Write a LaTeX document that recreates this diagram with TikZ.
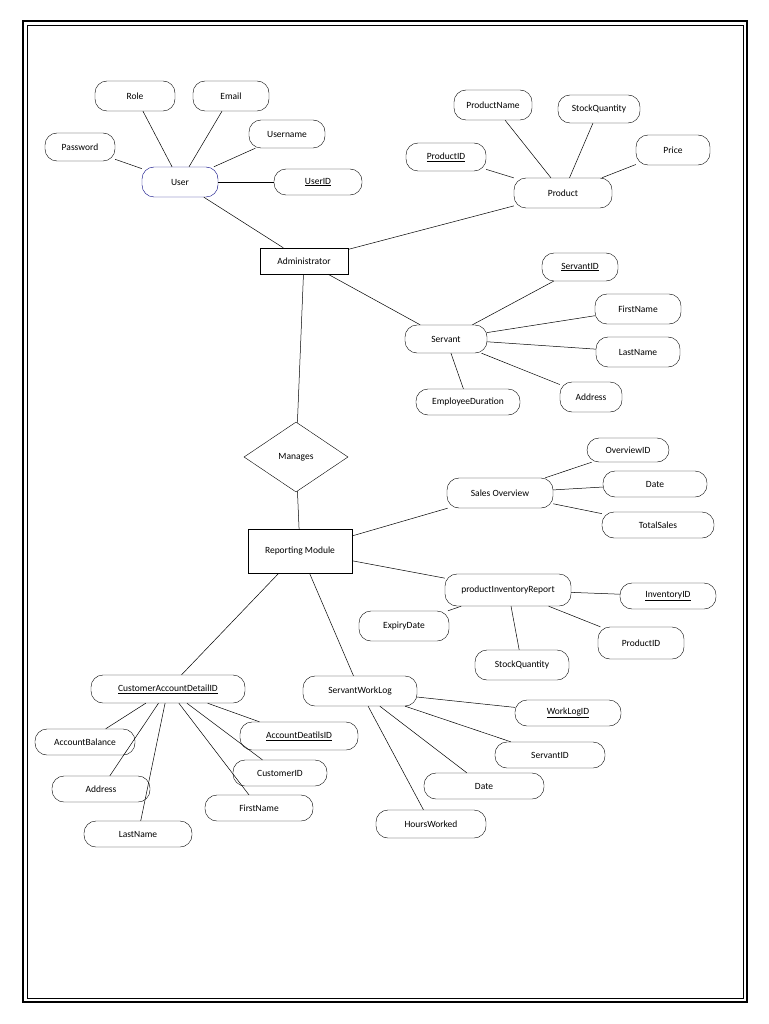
\documentclass[tikz,border=0pt]{standalone}
\usepackage{fontspec}
\setmainfont{Carlito}
\usetikzlibrary{shapes.geometric}
\begin{document}
\begin{tikzpicture}[x=1pt,y=-1pt,
  attr/.style={draw,rounded corners=12pt,font=\fontsize{9.5}{11}\selectfont,inner sep=1pt},
  ent/.style={draw,font=\fontsize{9.5}{11}\selectfont,inner sep=1pt},
  ln/.style={draw,line width=0.5pt}]
\useasboundingbox (0,0) rectangle (768,1024);
\fill[white] (0,0) rectangle (768,1024);
\draw[line width=2pt] (23,21) rectangle (747,1002);
\draw[line width=0.6pt] (27,25) rectangle (743,998);
\newcommand{\A}[6][]{\node[attr,minimum width=#5,minimum height=#6,#1] (#2) at (#3) {#4};}
\A{role}{135,96}{Role}{80}{30}
\A{email}{231,96}{Email}{76}{30}
\A{pw}{80,147}{Password}{70}{28}
\A{uname}{287,134}{Username}{76}{28}
\A[draw=blue!50!black]{user}{180,182}{User}{76}{30}
\A{uid}{318,182}{\underline{UserID}}{88}{26}
\A{pname}{493,105}{ProductName}{78}{30}
\A{sq}{599,109}{StockQuantity}{82}{28}
\A{pid}{446,157}{\underline{ProductID}}{80}{28}
\A{price}{673,150}{Price}{74}{30}
\A{prod}{563,193}{Product}{98}{30}
\node[ent,minimum width=88,minimum height=26] (adm) at (304,261) {Administrator};
\A{sid}{580,267}{\underline{ServantID}}{76}{28}
\A{fn}{638,309}{FirstName}{86}{30}
\A{serv}{446,339}{Servant}{82}{28}
\A{lnm}{638,352}{LastName}{84}{30}
\A{ed}{468,402}{EmployeeDuration}{104}{26}
\A{addr}{591,397}{Address}{62}{30}
\node[draw,diamond,aspect=1.5,minimum width=104,minimum height=70,inner sep=0pt,font=\fontsize{9.5}{11}\selectfont] (man) at (296,457) {Manages};
\A{ovid}{628,450}{OverviewID}{82}{24}
\A{so}{500,493}{Sales Overview}{106}{30}
\A{date}{655,484}{Date}{104}{26}
\A{ts}{658,525}{TotalSales}{112}{26}
\node[ent,minimum width=104,minimum height=44] (rm) at (300,551) {Reporting Module};
\A{pir}{508,590}{productInventoryReport}{126}{32}
\A{invid}{668,596}{\underline{InventoryID}}{96}{26}
\A{exp}{404,626}{ExpiryDate}{90}{30}
\A{pid2}{641,643}{ProductID}{86}{32}
\A{sq2}{522,665}{StockQuantity}{94}{30}
\A{cad}{168,689}{\underline{CustomerAccountDetailID}}{154}{28}
\A{swl}{360,691}{ServantWorkLog}{114}{30}
\A{wl}{568,713}{\underline{WorkLogID}}{106}{26}
\A{ab}{85,742}{AccountBalance}{100}{26}
\A{adid}{299,736}{\underline{AccountDeatilsID}}{118}{28}
\A{sid2}{550,755}{ServantID}{110}{26}
\A{cid}{280,773}{CustomerID}{94}{26}
\A{date2}{484,786}{Date}{120}{26}
\A{addr2}{101,789}{Address}{98}{26}
\A{fn2}{259,808}{FirstName}{108}{26}
\A{hw}{431,824}{HoursWorked}{110}{28}
\A{ln2}{138,834}{LastName}{108}{26}
\foreach \a/\b in {user/role,user/email,user/pw,user/uname,user/uid,user/adm,
  prod/pname,prod/sq,prod/pid,prod/price,prod/adm,adm/serv,adm/man,
  serv/sid,serv/fn,serv/lnm,serv/ed,serv/addr,man/rm,
  rm/so,rm/pir,rm/cad,rm/swl,so/ovid,so/date,so/ts,
  pir/invid,pir/exp,pir/pid2,pir/sq2,
  cad/ab,cad/addr2,cad/ln2,cad/fn2,cad/cid,cad/adid,
  swl/wl,swl/sid2,swl/date2,swl/hw}
  \draw[ln] (\a) -- (\b);
\end{tikzpicture}
\end{document}
